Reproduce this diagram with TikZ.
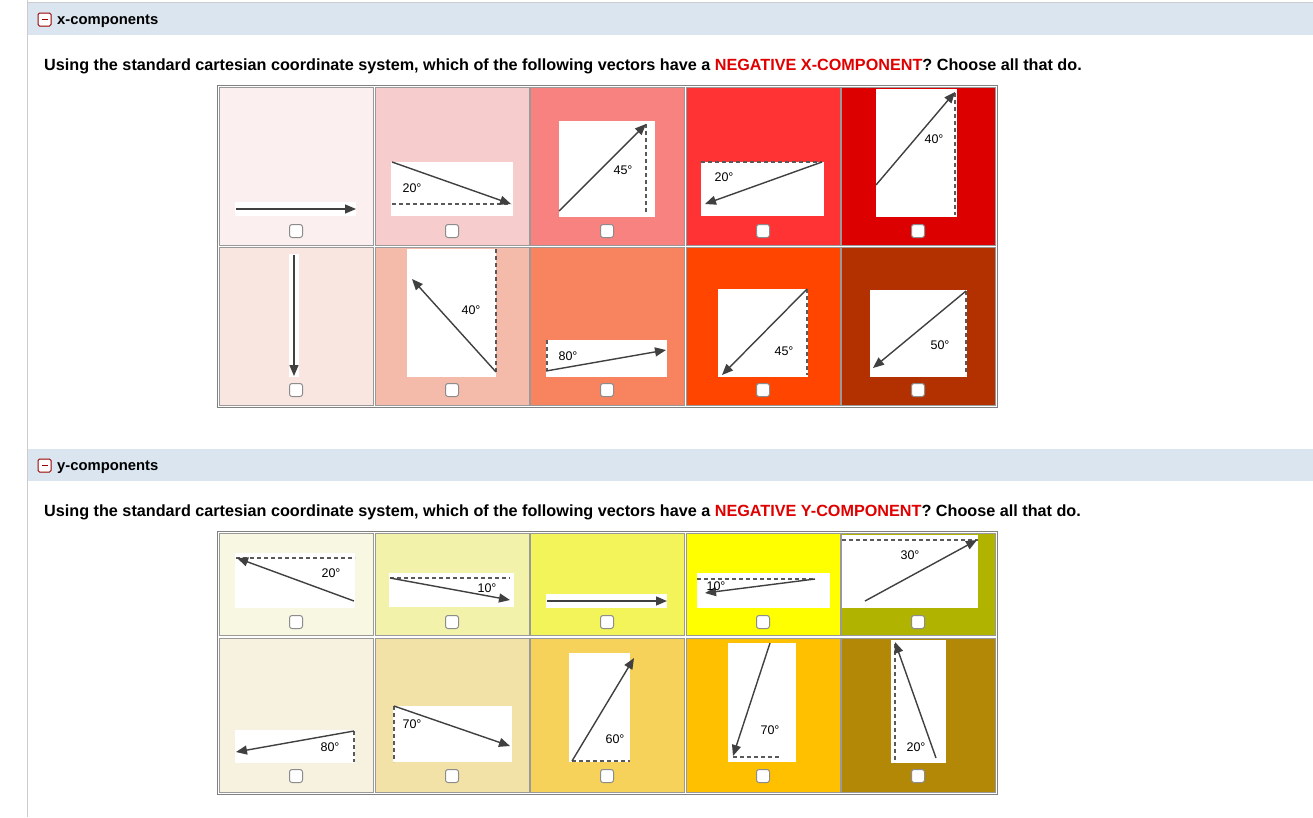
\documentclass[tikz,border=0pt]{standalone}
\usepackage{fontspec}
\setmainfont{Liberation Sans}
\usetikzlibrary{arrows.meta}
\definecolor{hdr}{HTML}{DAE5EF}
\definecolor{neg}{HTML}{E00000}
\tikzset{
 vec/.style={draw=black!75,line width=1.4pt,-{Triangle[length=11pt,width=9pt]}},
 dsh/.style={draw=black!65,line width=1.4pt,dash pattern=on 4pt off 3pt},
 lbl/.style={font=\fontsize{12.5}{13}\selectfont,inner sep=0pt},
 cellbox/.style={draw=gray!80,line width=0.8pt},
 chk/.style={draw=gray!90,fill=white,rounded corners=2.5pt,line width=1pt},
 wbox/.style={fill=white}
}
\newcommand{\mycell}[5]{% x0 y0 x1 y1 color
 \fill[#5] (#1,#2) rectangle (#3,#4);
 \draw[cellbox] (#1,#2) rectangle (#3,#4);}
\newcommand{\mychk}[2]{\draw[chk] (#1-6.5,#2-6.5) rectangle (#1+6.5,#2+6.5);}
\begin{document}
\begin{tikzpicture}[x=1pt,y=-1pt]
\useasboundingbox (0,0) rectangle (1313,817);
\fill[white] (0,0) rectangle (1313,817);
\draw[gray!40,line width=1pt] (27,0) -- (27,817);
\draw[gray!40,line width=1pt] (27,2) -- (1313,2);
% header bars
\foreach \yy/\tt in {3/x-components,449/y-components}{
 \fill[hdr] (28,\yy) rectangle (1313,\yy+32);
 \draw[red!60!black,fill=white,line width=1pt,rounded corners=1.5pt] (38,\yy+10) rectangle (51,\yy+23);
 \draw[red!60!black,line width=1.2pt] (41.5,\yy+16.5) -- (47.5,\yy+16.5);
 \node[anchor=west,font=\bfseries\fontsize{14.8}{16}\selectfont,inner sep=0pt] at (57,\yy+18) {\tt};
}
\node[anchor=west,font=\bfseries\fontsize{16.2}{18}\selectfont,inner sep=0pt] (q1) at (44,66) {Using the standard cartesian coordinate system, which of the following vectors have a \textcolor{neg}{NEGATIVE X-COMPONENT}? Choose all that do.};
\node[anchor=west,font=\bfseries\fontsize{16.2}{18}\selectfont,inner sep=0pt] (q2) at (44,512) {Using the standard cartesian coordinate system, which of the following vectors have a \textcolor{neg}{NEGATIVE Y-COMPONENT}? Choose all that do.};
% tables
\draw[gray,line width=1pt] (217,85) rectangle (997,407);
\draw[gray,line width=1pt] (217,531) rectangle (997,794);
\mycell{219}{87}{373}{245}{fill={rgb,255:red,251;green,239;blue,239}}
\mycell{375}{87}{529}{245}{fill={rgb,255:red,246;green,204;blue,204}}
\mycell{530}{87}{684}{245}{fill={rgb,255:red,247;green,130;blue,128}}
\mycell{686}{87}{840}{245}{fill={rgb,255:red,255;green,51;blue,51}}
\mycell{841}{87}{995}{245}{fill={rgb,255:red,221;green,0;blue,0}}
\mycell{219}{247}{373}{405}{fill={rgb,255:red,249;green,230;blue,224}}
\mycell{375}{247}{529}{405}{fill={rgb,255:red,244;green,187;blue,170}}
\mycell{530}{247}{684}{405}{fill={rgb,255:red,248;green,132;blue,95}}
\mycell{686}{247}{840}{405}{fill={rgb,255:red,255;green,69;blue,0}}
\mycell{841}{247}{995}{405}{fill={rgb,255:red,179;green,48;blue,0}}
\mycell{219}{533}{373}{635}{fill={rgb,255:red,247;green,247;blue,226}}
\mycell{375}{533}{529}{635}{fill={rgb,255:red,242;green,242;blue,171}}
\mycell{530}{533}{684}{635}{fill={rgb,255:red,243;green,243;blue,90}}
\mycell{686}{533}{840}{635}{fill={rgb,255:red,255;green,255;blue,0}}
\mycell{841}{533}{995}{635}{fill={rgb,255:red,176;green,179;blue,0}}
\mycell{219}{638}{373}{792}{fill={rgb,255:red,247;green,242;blue,224}}
\mycell{375}{638}{529}{792}{fill={rgb,255:red,243;green,226;blue,168}}
\mycell{530}{638}{684}{792}{fill={rgb,255:red,246;green,210;blue,90}}
\mycell{686}{638}{840}{792}{fill={rgb,255:red,255;green,192;blue,0}}
\mycell{841}{638}{995}{792}{fill={rgb,255:red,179;green,136;blue,6}}
\foreach \xx in {296,452,607,763,918}{
 \mychk{\xx}{231}\mychk{\xx}{390}\mychk{\xx}{622}\mychk{\xx}{776}}
% ---- x row 1
\fill[wbox] (235,202) rectangle (356,216);
\draw[vec] (236,209) -- (356,209);
\fill[wbox] (391,162) rectangle (513,216);
\draw[dsh] (392,204) -- (511,204);
\draw[vec] (392,162) -- (511,204);
\node[lbl] at (412,188) {20°};
\fill[wbox] (559,121) rectangle (655,217);
\draw[dsh] (646,124) -- (646,214);
\draw[vec] (559,211) -- (646,124);
\node[lbl] at (623,170) {45°};
\fill[wbox] (701,162) rectangle (824,216);
\draw[dsh] (701,162) -- (822,162);
\draw[vec] (822,162) -- (705,204);
\node[lbl] at (724,177) {20°};
\fill[wbox] (876,89) rectangle (957,217);
\draw[dsh] (955,93) -- (955,215);
\draw[vec] (876,185) -- (955,92);
\node[lbl] at (934,139) {40°};
% ---- x row 2
\fill[wbox] (289,254) rectangle (299,377);
\draw[vec] (294,255) -- (294,376);
\fill[wbox] (407,249) rectangle (496,377);
\draw[dsh] (496,249) -- (496,372);
\draw[vec] (496,372) -- (412,279);
\node[lbl] at (471,310) {40°};
\fill[wbox] (546,340) rectangle (667,377);
\draw[dsh] (547,340) -- (547,371);
\draw[vec] (546,371) -- (666,350);
\node[lbl] at (568,356) {80°};
\fill[wbox] (718,289) rectangle (808,377);
\draw[dsh] (807,289) -- (807,375);
\draw[vec] (807,289) -- (722,375);
\node[lbl] at (784,351) {45°};
\fill[wbox] (870,290) rectangle (967,377);
\draw[dsh] (966,291) -- (966,375);
\draw[vec] (966,291) -- (873,368);
\node[lbl] at (940,345) {50°};
% ---- y row 1
\fill[wbox] (235,553) rectangle (355,608);
\draw[dsh] (236,558) -- (355,558);
\draw[vec] (354,601) -- (237,558);
\node[lbl] at (331,573) {20°};
\fill[wbox] (389,573) rectangle (514,607);
\draw[dsh] (390,578) -- (510,578);
\draw[vec] (390,578) -- (510,600);
\node[lbl] at (487,588) {10°};
\fill[wbox] (546,594) rectangle (667,608);
\draw[vec] (547,601) -- (667,601);
\fill[wbox] (697,573) rectangle (830,608);
\draw[dsh] (697,579) -- (815,579);
\draw[vec] (815,579) -- (705,593);
\node[lbl] at (716,586) {10°};
\fill[wbox] (842,535) rectangle (978,608);
\draw[dsh] (842,540) -- (978,540);
\draw[vec] (865,601) -- (977,540);
\node[lbl] at (910,555) {30°};
% ---- y row 2
\fill[wbox] (235,730) rectangle (355,763);
\draw[dsh] (354,731) -- (354,762);
\draw[vec] (354,731) -- (236,752);
\node[lbl] at (330,747) {80°};
\fill[wbox] (393,706) rectangle (512,762);
\draw[dsh] (394,706) -- (394,762);
\draw[vec] (394,706) -- (510,746);
\node[lbl] at (412,724) {70°};
\fill[wbox] (569,653) rectangle (630,762);
\draw[dsh] (572,761) -- (630,761);
\draw[vec] (572,761) -- (634,658);
\node[lbl] at (615,739) {60°};
\fill[wbox] (728,643) rectangle (796,762);
\draw[dsh] (733,757) -- (780,757);
\draw[vec] (770,643) -- (733,756);
\node[lbl] at (770,730) {70°};
\fill[wbox] (891,640) rectangle (946,763);
\draw[dsh] (895,644) -- (895,763);
\draw[vec] (936,758) -- (895,642);
\node[lbl] at (916,747) {20°};
\end{tikzpicture}
\end{document}
